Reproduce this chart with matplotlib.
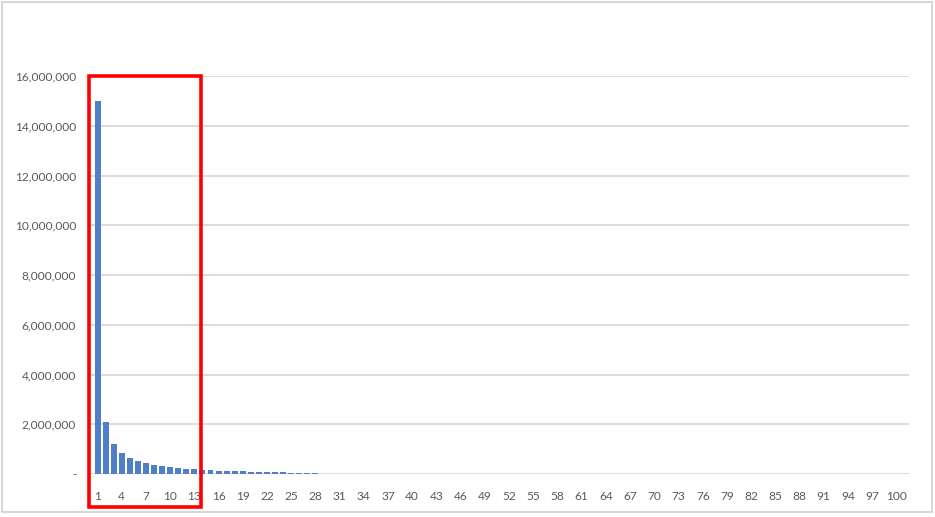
import matplotlib
matplotlib.use("Agg")
import matplotlib.pyplot as plt
from matplotlib.ticker import FuncFormatter, FixedLocator
from matplotlib.patches import Rectangle

# ---- data ----
categories = list(range(1, 101))
values_head = [15000000, 2080000, 1200000, 860000, 660000, 520000, 430000,
               360000, 310000, 270000, 240000, 220000, 200000, 170000,
               150000, 140000, 130000, 120000, 110000, 100000, 85000,
               75000, 68000, 62000, 56000, 50000, 45000, 40000]
values_tail = [18000, 17000, 16000, 15000, 14000, 13500, 13000, 12500, 12000,
               11500, 11000, 10500, 10000, 9600, 9200, 8800, 8400, 8000,
               7700, 7400, 7100, 6800, 6500, 6200, 6000, 5800, 5600, 5400,
               5200, 5000, 4800, 4600, 4400, 4200, 4000, 3900, 3800, 3700,
               3600, 3500, 3400, 3300, 3200, 3100, 3000, 2900, 2800, 2700,
               2600, 2500, 2400, 2300, 2200, 2100, 2000, 1950, 1900, 1850,
               1800, 1750, 1700, 1650, 1600, 1550, 1500, 1450, 1400, 1350,
               1300, 1250, 1200, 1150]
values = values_head + values_tail
y_ticks = [0, 2000000, 4000000, 6000000, 8000000, 10000000, 12000000,
           14000000, 16000000]
x_tick_labels = list(range(1, 101, 3))

W, H = 935, 517
fig = plt.figure(figsize=(W / 100, H / 100), dpi=100)
fig.patch.set_facecolor("white")

def fx(px):
    return px / W

def fy(py):
    return 1 - py / H

ax_left, ax_right = 88, 909
ax_top, ax_bot = 76, 474
ax = fig.add_axes([fx(ax_left), fy(ax_bot), fx(ax_right - ax_left),
                   (ax_bot - ax_top) / H])

ax.bar(categories, values, width=0.74, color="#4f7fc6", zorder=3)

ax.set_xlim(-0.18, 101.56)
ax.set_ylim(0, 16000000)

ax.yaxis.set_major_locator(FixedLocator(y_ticks))
ax.yaxis.set_major_formatter(
    FuncFormatter(lambda v, p: "-" if v == 0 else f"{int(v):,}"))
ax.set_xticks(x_tick_labels)
ax.set_xticklabels([str(v) for v in x_tick_labels])

ax.grid(axis="y", color="#d9d9d9", linewidth=1.3, zorder=0)
ax.set_axisbelow(True)
for s in ax.spines.values():
    s.set_visible(False)
ax.tick_params(axis="both", length=0, colors="#595959", labelsize=8.6)
ax.tick_params(axis="y", pad=8.5)
ax.tick_params(axis="x", pad=12)
for lab in ax.get_xticklabels() + ax.get_yticklabels():
    lab.set_fontfamily(["Lato", "DejaVu Sans"])
    lab.set_color("#595959")

# outer chart-area frame
fig.patches.append(Rectangle((fx(1.5), fy(512)), fx(930), (510.5) / H,
                             transform=fig.transFigure, fill=False,
                             edgecolor="#d0d0d0", linewidth=1.2))
# red highlight box
fig.patches.append(Rectangle((fx(88.5), fy(506.5)), fx(200.5 - 88.5),
                             (506.5 - 75.5) / H, transform=fig.transFigure,
                             fill=False, edgecolor="#ff0000", linewidth=2.6,
                             zorder=10))

fig.savefig("out.png", dpi=100, facecolor="white")
